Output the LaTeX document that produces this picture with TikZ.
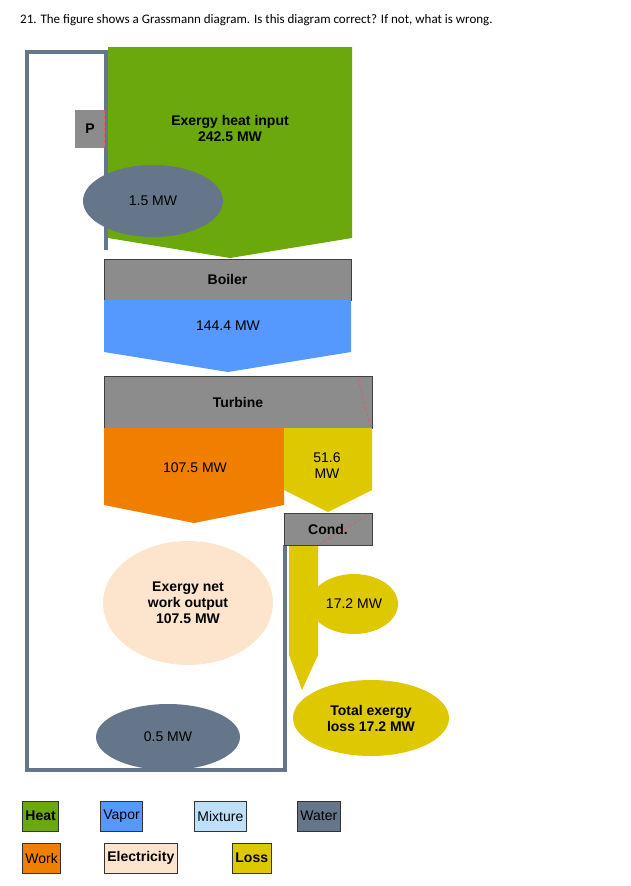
\documentclass[tikz,border=0pt]{standalone}
\usepackage{fontspec}
\usetikzlibrary{shapes.geometric}
\setmainfont{Liberation Sans}
\newfontfamily\titlefont{Carlito}
\begin{document}
\begin{tikzpicture}[x=1pt,y=-1pt,
  txt/.style={font=\fontsize{14}{16}\selectfont, align=center, inner sep=0pt},
  btxt/.style={txt, font=\fontsize{14}{16}\selectfont\bfseries},
  unit/.style={fill=unitgray, draw=black!75, line width=0.8pt},
  water/.style={draw=watergray, line width=3.5pt},
  leg/.style={draw=black!80, line width=0.8pt, font=\fontsize{14}{16}\selectfont, minimum height=30pt, inner xsep=3pt, anchor=west},
  redline/.style={draw=red!70, dashed, line width=0.5pt}]
\definecolor{heatgreen}{HTML}{6AA80C}
\definecolor{vaporblue}{HTML}{5599FF}
\definecolor{mixblue}{HTML}{BDE0F8}
\definecolor{watergray}{HTML}{66768A}
\definecolor{workorange}{HTML}{F07F00}
\definecolor{elecpeach}{HTML}{FDE4CC}
\definecolor{lossyellow}{HTML}{DEC800}
\definecolor{unitgray}{HTML}{8C8C8C}
\useasboundingbox (0,0) rectangle (631,886);
\node[anchor=west, inner sep=0pt, font=\titlefont\fontsize{13}{15}\selectfont] (title) at (20,20) {21. The figure shows a Grassmann diagram. Is this diagram correct? If not, what is wrong.};
% water loop
\draw[water] (106,250) -- (106,52) -- (27,52) -- (27,770) -- (285,770) -- (285,545);
% heat input
\fill[heatgreen] (108,47) -- (352,47) -- (352,238) -- (230,258) -- (108,238) -- cycle;
\node[btxt] (heat) at (230,128) {Exergy heat input\\242.5 MW};
\node[fill=unitgray, minimum width=30pt, minimum height=38pt, inner sep=0pt, font=\fontsize{14}{16}\selectfont\bfseries] (pump) at (90,129) {P};
\draw[redline] (104,110) -- (104,148);
\node[ellipse, fill=watergray, minimum width=140pt, minimum height=72pt, txt] (w1) at (153,201) {1.5 MW};
% boiler
\node[unit, minimum width=247pt, minimum height=41pt, inner sep=0pt, btxt] (boiler) at (227.5,279.5) {Boiler};
\fill[vaporblue] (104,300) -- (351,300) -- (351,352) -- (228,372) -- (104,352) -- cycle;
\node[txt] (vap) at (228,326) {144.4 MW};
% turbine
\node[unit, minimum width=268pt, minimum height=52pt, inner sep=0pt, btxt] (turbine) at (238,402) {Turbine};
\draw[redline] (358,378) -- (370,426);
\fill[workorange] (104,428) -- (284,428) -- (284,505) -- (194,523) -- (104,505) -- cycle;
\node[txt] (work) at (195,468) {107.5 MW};
\fill[lossyellow] (284,428) -- (372,428) -- (372,490) -- (328,512) -- (284,490) -- cycle;
\node[txt] (loss1) at (327,466) {51.6\\MW};
% condenser
\node[unit, minimum width=88pt, minimum height=32pt, inner sep=0pt, btxt] (cond) at (328,529) {Cond.};
\draw[redline] (318,545) -- (368,515);
\fill[lossyellow] (289,546) -- (318,546) -- (318,655) -- (302,690) -- (289,655) -- cycle;
\node[ellipse, fill=lossyellow, minimum width=88pt, minimum height=60pt, txt] (loss2) at (354,604) {17.2 MW};
\node[ellipse, fill=lossyellow, minimum width=156pt, minimum height=76pt, btxt] (total) at (371,718) {Total exergy\\loss 17.2 MW};
\node[ellipse, fill=elecpeach, minimum width=170pt, minimum height=124pt, btxt] (net) at (188,603) {Exergy net\\work output\\107.5 MW};
\node[ellipse, fill=watergray, minimum width=144pt, minimum height=66pt, txt] (w2) at (168,737) {0.5 MW};
% legend
\node[leg, fill=heatgreen, font=\fontsize{14}{16}\selectfont\bfseries] (lh) at (22,816) {Heat};
\node[leg, fill=vaporblue] (lv) at (100,816) {Vapor};
\node[leg, fill=mixblue] (lm) at (194,816) {Mixture};
\node[leg, fill=watergray] (lw) at (297,816) {Water};
\node[leg, fill=workorange] (lwo) at (22,858) {Work};
\node[leg, fill=elecpeach, font=\fontsize{14}{16}\selectfont\bfseries] (le) at (104,858) {Electricity};
\node[leg, fill=lossyellow, font=\fontsize{14}{16}\selectfont\bfseries] (ll) at (232,858) {Loss};
\end{tikzpicture}
\end{document}
